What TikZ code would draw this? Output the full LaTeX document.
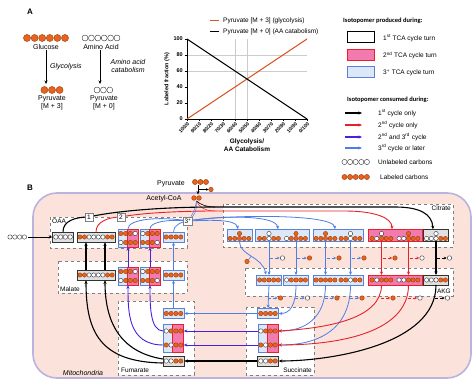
\documentclass[tikz,border=0pt]{standalone}
\usepackage{fontspec}
\setmainfont{Liberation Sans}
\newfontfamily\ttlfont{Carlito}
\usetikzlibrary{arrows.meta}

\definecolor{lorange}{HTML}{E8641E}
\definecolor{dorange}{HTML}{9A3B0A}
\definecolor{chorange}{HTML}{D9541E}
\definecolor{tpink}{HTML}{F27AAE}
\definecolor{tred}{HTML}{E8202A}
\definecolor{tblue}{HTML}{DCE8F8}
\definecolor{tbluedraw}{HTML}{5B82D6}
\definecolor{apurple}{HTML}{4B1FE0}
\definecolor{ablue}{HTML}{4E7FE6}
\definecolor{mito}{HTML}{FBE3DC}
\definecolor{mitoline}{HTML}{B9B3DD}

\newcommand{\fsA}{\fontsize{7}{8}\selectfont}
\newcommand{\fsB}{\fontsize{6.5}{7.5}\selectfont}
\newcommand{\fsC}{\fontsize{5.5}{6.5}\selectfont}

\tikzset{
  c1/.style={circle,draw=dorange,fill=lorange,line width=0.4pt,inner sep=0pt},
  c0/.style={circle,draw=black!80,fill=white,line width=0.4pt,inner sep=0pt},
  gbox/.style={draw=black!80,fill=black!12,line width=0.5pt,inner sep=0pt},
  pbox/.style={draw=tred,fill=tpink,line width=0.6pt,inner sep=0pt},
  bbox/.style={draw=tbluedraw,fill=tblue,line width=0.6pt,inner sep=0pt},
  pool/.style={draw=black!50,dashed,fill=white,line width=0.5pt},
  turnlab/.style={draw=black!50,fill=white,font=\fsB,inner sep=1pt,minimum size=8pt},
  hdr/.style={font=\bfseries\fontsize{8}{9}\selectfont,inner sep=0pt},
  txtA/.style={font=\fsA,inner sep=0pt,align=center},
  txtB/.style={font=\fsB,inner sep=1pt},
  lgd/.style={font=\fsB,anchor=west,inner sep=0pt},
  ttl/.style={font=\ttlfont\bfseries\fontsize{6.5}{7}\selectfont,anchor=west,inner sep=0pt},
  lgbox/.style={minimum width=27pt,minimum height=11pt,line width=1pt,inner sep=0pt},
  flowtip/.style={-{Stealth[length=3.5pt,width=3pt]}},
  kflow/.style={draw=black,line width=1.1pt,flowtip},
  rflow/.style={draw=tred,line width=0.9pt,flowtip},
  pflow/.style={draw=apurple,line width=0.9pt,flowtip},
  bflow/.style={draw=ablue,line width=0.8pt,flowtip},
  kline/.style={draw=black,line width=1.1pt},
  rline/.style={draw=tred,line width=0.9pt},
  bline/.style={draw=ablue,line width=0.8pt},
  co2tip/.style={densely dashed,line width=0.6pt,-{Stealth[length=2.5pt,width=2.5pt]}},
  chartaxis/.style={line width=0.7pt},
  chartgrid/.style={draw=black!20,line width=0.4pt},
}

% carbon chain: spacing, left x, y, list of 1/0
\newcommand{\chain}[4][4.8]{%
  \foreach \cv [count=\ci] in {#4}
    \node[c\cv,minimum size=#1*0.93pt] at ({#2+(\ci-1)*#1},#3) {};}
% citrate: centre x, row y, row list, top carbon
\newcommand{\citr}[4]{%
  \chain[4.7]{#1-9.4}{#2}{#3}
  \node[c#4,minimum size=4.4pt] at (#1,#2-4.9) {};}
% box made during 2nd and 3rd turn
\newcommand{\twotone}[4]{%
  \node[bbox,minimum width=20pt,minimum height=#4pt] (#1) at (#2,#3) {};
  \node[pbox,minimum width=11pt,minimum height=#4pt,anchor=east] (#1p) at (#1.east) {};}
% released carbon
\newcommand{\cotwo}[4]{%
  \draw[#2,co2tip] ([xshift=1pt]#1) -- ([xshift=10.5pt]#1);
  \node[#3,minimum size=4.5pt] (#4) at ([xshift=13.5pt]#1) {};}

\begin{document}
\begin{tikzpicture}[x=1pt,y=-1pt]
\useasboundingbox (0,0) rectangle (474,387);

%% panel A
\node[hdr] (hA) at (30,12) {A};
\chain[7.6]{27}{38}{1,1,1,1,1,1}
\node[txtA] (glc) at (46,47) {Glucose};
\chain[6.4]{85}{38}{0,0,0,0,0,0}
\node[txtA] (aa) at (101,47) {Amino Acid};
\chain[7.6]{44.4}{90}{1,1,1}
\chain[6.4]{97}{90}{0,0,0}
\node[txtA] (pyr3) at (52,103) {Pyruvate\\{[M + 3]}};
\node[txtA] (pyr0) at (104,103) {Pyruvate\\{[M + 0]}};
\coordinate (pyr3c) at (46,84);
\coordinate (pyr0c) at (100,84);
\draw[draw=black,line width=0.9pt,flowtip] (glc.south) -- (pyr3c);
\draw[draw=black,line width=0.9pt,flowtip] (aa.south -| pyr0c) -- (pyr0c);
\node[txtA,font=\fsA\itshape] (glyc) at (66,67) {Glycolysis};
\node[txtA,font=\fsA\itshape] (aacat) at (128,66) {Amino acid\\catabolism};

%% chart
\foreach \v in {60,80}
  \draw[chartgrid] (187,{119-0.8*\v}) -- (307,{119-0.8*\v});
\foreach \i in {4,5}
  \draw[chartgrid] ({187+12*\i},39) -- ({187+12*\i},119);
\draw[chartaxis] (187,39) -- (187,119) -- (307,119);
\foreach \v in {0,20,...,100}{
  \draw[chartaxis] (184.5,{119-0.8*\v}) -- (187,{119-0.8*\v});
  \node[font=\bfseries\fsC,anchor=east,inner sep=0pt] at (183,{119-0.8*\v}) {\v};}
\foreach \l [count=\i from 0] in {100/0,90/10,80/20,70/30,60/40,50/50,40/60,30/70,20/80,10/90,0/100}{
  \draw[chartaxis] ({187+12*\i},119) -- ({187+12*\i},121.5);
  \node[font=\bfseries\fontsize{5}{6}\selectfont,rotate=45,anchor=east,inner sep=0pt] at ({188.5+12*\i},123.5) {\l};}
\node[font=\bfseries\fsC,rotate=90,inner sep=0pt] (ylab) at (167,79) {Labeled fraction (\%)};
\node[font=\bfseries\fsB,align=center,inner sep=0pt] (xlab) at (247,145) {Glycolysis/\\AA Catabolism};
\draw[chorange,line width=1pt] (187,119) -- (307,39);
\draw[black,line width=1pt] (187,39) -- (307,119);
\draw[chorange,line width=1pt] (210,21) -- (219,21);
\node[lgd] (lgo) at (223,21) {Pyruvate [M + 3] (glycolysis)};
\draw[black,line width=1pt] (210,32) -- (219,32);
\node[lgd] (lgk) at (223,32) {Pyruvate [M + 0] (AA catabolism)};

%% legend
\node[ttl] (prodT) at (343,21) {Isotopomer produced during:};
\node[lgbox,draw=black,fill=white] (lg1) at (360.5,37.5) {};
\node[lgd] (lg1t) at (383,38) {1\textsuperscript{st} TCA cycle turn};
\node[lgbox,draw=tred,fill=tpink] (lg2) at (360.5,55.5) {};
\node[lgd] (lg2t) at (383,55.5) {2\textsuperscript{nd} TCA cycle turn};
\node[lgbox,draw=tbluedraw,fill=tblue] (lg3) at (360.5,72.5) {};
\node[lgd] (lg3t) at (383,73) {3\textsuperscript{+} TCA cycle turn};
\node[ttl] (consT) at (347,100) {Isotopomer consumed during:};
\foreach \n/\y in {1/113,2/125,3/137,4/148}{
  \coordinate (ar\n s) at (345,\y);
  \coordinate (ar\n e) at (362,\y);}
\draw[kflow] (ar1s) -- (ar1e);
\draw[rflow,line width=1.1pt] (ar2s) -- (ar2e);
\draw[pflow,line width=1.1pt] (ar3s) -- (ar3e);
\draw[bflow,line width=1.1pt] (ar4s) -- (ar4e);
\node[lgd] (ar1t) at (378,113) {1\textsuperscript{st} cycle only};
\node[lgd] (ar2t) at (378,125) {2\textsuperscript{nd} cycle only};
\node[lgd] (ar3t) at (378,137) {2\textsuperscript{nd} and 3\textsuperscript{rd} cycle};
\node[lgd] (ar4t) at (378,148) {3\textsuperscript{rd} cycle or later};
\chain[5.6]{344.5}{162}{0,0,0,0,0}
\node[lgd] (unl) at (378,162) {Unlabeled carbons};
\chain[5.6]{344.5}{177}{1,1,1,1,1}
\node[lgd] (lbl) at (380,177) {Labeled carbons};

%% panel B
\node[hdr] (hB) at (30,188) {B};
\draw[mitoline,fill=mito,line width=1.6pt,rounded corners=24pt] (33,193) rectangle (471,378);
\node[txtB,font=\fsA\itshape] (mitoL) at (83,373) {Mitochondria};
\node[txtB,font=\fsA] (pyrB) at (171,184) {Pyruvate};
\chain[5.5]{195}{182}{1,1,1}
\node[txtB,font=\fsA] (acoaL) at (164,199) {Acetyl-CoA};
\chain[5]{194}{198}{1,1}

% pools
\draw[pool] (50,217) rectangle (187,248);
\node[txtB,anchor=north west] (oaaL) at (51,218) {OAA};
\draw[pool] (58,261) rectangle (187,293);
\node[txtB,anchor=south west] (malL) at (59,293) {Malate};
\draw[pool] (118,301) rectangle (194,375);
\node[txtB,anchor=south west] (fumL) at (120,374) {Fumarate};
\draw[pool] (246,307) rectangle (314,375);
\node[txtB,anchor=south east] (sucL) at (313,374) {Succinate};
\draw[pool] (223,204) rectangle (453,247);
\node[txtB,anchor=north east] (citL) at (452,205) {Citrate};
\draw[pool] (245,268) rectangle (453,296);
\node[txtB,anchor=south east] (akgL) at (452,295) {AKG};

% OAA row
\node[gbox,minimum width=21pt,minimum height=10pt] (oaa1) at (63,237) {};
\chain{55.8}{237}{0,0,0,0}
\node[gbox,minimum width=38pt,minimum height=10pt] (oaa2) at (96,237) {};
\chain[4.6]{79.9}{237}{1,1,0,0,0,0,1,1}
\twotone{oaa3}{128}{238}{18}
\chain{120.8}{233.5}{1,1,1,0}
\chain{120.8}{242.5}{0,1,1,1}
\twotone{oaa4}{150}{238}{18}
\chain{142.8}{233.5}{0,1,1,1}
\chain{142.8}{242.5}{1,1,1,0}
\node[bbox,minimum width=21pt,minimum height=10pt] (oaa5) at (173.5,237) {};
\chain{166.3}{237}{1,1,1,1}
\chain{10}{237}{0,0,0,0}
\coordinate (inp) at (28,237);
\draw[draw=black,line width=0.8pt,flowtip] (inp) -- (oaa1.west);

% malate row
\node[gbox,minimum width=38pt,minimum height=10pt] (mal2) at (96,275) {};
\chain[4.6]{79.9}{275}{1,1,0,0,0,0,1,1}
\twotone{mal3}{128}{276}{18}
\chain{120.8}{271.5}{1,1,1,0}
\chain{120.8}{280.5}{0,1,1,1}
\twotone{mal4}{150}{276}{18}
\chain{142.8}{271.5}{0,1,1,1}
\chain{142.8}{280.5}{1,1,1,0}
\node[bbox,minimum width=21pt,minimum height=10pt] (mal5) at (173.5,275) {};
\chain{166.3}{275}{1,1,1,1}

% fumarate and succinate
\node[bbox,minimum width=21pt,minimum height=10pt] (fum1) at (173.5,313.5) {};
\chain{166.3}{313.5}{1,1,1,1}
\twotone{fum2}{173.5}{338}{28}
\chain{166.3}{331}{0,1,1,1}
\chain{166.3}{345}{1,0,1,1}
\node[gbox,minimum width=21pt,minimum height=10pt] (fumG) at (173.5,361) {};
\chain{166.3}{361}{0,0,1,1}
\node[bbox,minimum width=21pt,minimum height=10pt] (suc1) at (268,313.5) {};
\chain{260.8}{313.5}{1,1,1,1}
\twotone{suc2}{268}{338}{28}
\chain{260.8}{331}{0,1,1,1}
\chain{260.8}{345}{1,0,1,1}
\node[gbox,minimum width=21pt,minimum height=10pt] (sucG) at (268,361) {};
\chain{260.8}{361}{0,0,1,1}

% citrate row
\node[bbox,minimum width=25pt,minimum height=12pt] (citA) at (239.5,235.5) {};
\citr{239.5}{238.5}{1,1,1,1,1}{1}
\node[bbox,minimum width=54pt,minimum height=12pt] (citB) at (282.5,235.5) {};
\citr{269}{238.5}{1,1,0,1,1}{0}
\citr{296}{238.5}{0,1,1,1,1}{1}
\node[bbox,minimum width=50pt,minimum height=12pt] (citC) at (338,235.5) {};
\citr{325.5}{238.5}{1,1,1,1,1}{1}
\citr{350.5}{238.5}{1,1,0,1,1}{0}
\node[pbox,minimum width=54pt,minimum height=12pt] (citD) at (395,235.5) {};
\citr{381.5}{238.5}{1,0,1,1,1}{0}
\citr{408.5}{238.5}{0,0,1,1,1}{1}
\node[gbox,minimum width=25pt,minimum height=12pt] (citE) at (436,235.5) {};
\citr{436}{238.5}{0,0,0,1,1}{0}

% AKG row
\node[bbox,minimum width=25pt,minimum height=10pt] (akg1) at (269,280) {};
\chain[4.7]{259.6}{280}{1,1,1,1,1}
\node[bbox,minimum width=25pt,minimum height=10pt] (akg2) at (296,280) {};
\chain[4.7]{286.6}{280}{0,1,1,1,1}
\node[bbox,minimum width=50pt,minimum height=10pt] (akg3) at (338,280) {};
\chain[4.7]{316.1}{280}{1,1,1,1,1}
\chain[4.7]{341.1}{280}{1,1,0,1,1}
\node[pbox,minimum width=54pt,minimum height=10pt] (akg4) at (395,280) {};
\chain[4.7]{372.1}{280}{1,0,1,1,1}
\chain[4.7]{399.1}{280}{0,0,1,1,1}
\node[gbox,minimum width=25pt,minimum height=10pt] (akg5) at (436,280) {};
\chain[4.7]{426.6}{280}{0,0,0,1,1}

% column points
\foreach \n/\x in {a/269,b/296,c/325.5,d/350.5,e/381.5,f/408.5,g/436}{
  \coordinate (t\n) at (\x,241.5);
  \coordinate (m\n) at (\x,275);
  \coordinate (s\n) at (\x,258);
  \coordinate (u\n) at (\x,285);
  \coordinate (w\n) at (\x-2,298);}

% pyruvate to acetyl-CoA
\coordinate (pyrc) at (198,185.5);
\coordinate (acoat) at (198,194.5);
\coordinate (pyrbr) at (198,189.5);
\draw[draw=black,line width=0.7pt,flowtip] (pyrc) -- (acoat);
\node[c1,minimum size=4.5pt] (pco2) at (211,189.5) {};
\draw[draw=black,line width=0.6pt,-{Stealth[length=2.5pt,width=2.5pt]}] (pyrbr) -- (pco2);

% condensation with acetyl-CoA
\coordinate (acoa) at (196.5,201);
\coordinate (l1) at (89,217);
\coordinate (l2) at (121,217);
\coordinate (l3) at (188,221);
\draw[bline,line width=0.5pt] (acoa) .. controls (195,210) and (192,216) .. (l3);
\draw[bline,line width=0.5pt] (acoa) .. controls (197,211) and (194,217) .. (l3);
\draw[rline,line width=0.5pt] (acoa) .. controls (199,207) and (205,211) .. (215,211);
\draw[kline,line width=0.6pt] (acoa) .. controls (201,205) and (207,207) .. (215,207);
\draw[kflow] (oaa1.north) .. controls (63,221) and (75,217) .. (l1) .. controls (105,213) and (150,207) .. (215,207) -- (395,207) .. controls (420,207) and (432,214) .. ([xshift=-3pt]citE.north);
\draw[rflow] (oaa2.north) .. controls (96,222) and (108,217) .. (l2) .. controls (140,213) and (180,211) .. (215,211) -- (345,211) .. controls (375,211) and (392,218) .. ([xshift=-3pt]citD.north);
\draw[bline] (oaa3.north) .. controls (128,219) and (160,216) .. (l3);
\draw[bline] (oaa4.north) .. controls (150,222) and (168,219) .. (l3);
\draw[bline] (oaa5.north) .. controls (173.5,226) and (180,222) .. (l3);
\draw[bflow] (l3) .. controls (210,220) and (236,219) .. ([xshift=-1.5pt]citA.north);
\draw[bflow] (l3) .. controls (215,216) and (276,214) .. ([xshift=-4.5pt]citB.north);
\draw[bflow] (l3) .. controls (220,215) and (333,213) .. ([xshift=-3pt]citC.north);

% citrate to AKG
\draw[bflow] (citA.south) .. controls (240,256) and (262,256) .. ([xshift=-3pt]akg1.north);
\coordinate (brA) at (251,256.5);
\node[c1,minimum size=4.5pt] (xA) at (247,261.5) {};
\draw[ablue,line width=0.6pt] (brA) -- (xA);
\draw[bflow] (ta) -- (ma);
\draw[bflow] (tb) -- (mb);
\draw[bflow] (tc) -- (mc);
\draw[bflow] (td) -- (md);
\draw[rflow] (te) -- (me);
\draw[rflow] (tf) -- (mf);
\draw[kflow] (tg) -- (mg);
\cotwo{sa}{ablue}{c0}{xa}
\cotwo{sb}{ablue}{c1}{xb}
\cotwo{sc}{ablue}{c1}{xc}
\cotwo{sd}{ablue}{c1}{xd}
\cotwo{se}{tred}{c1}{xe}
\cotwo{sf}{tred}{c0}{xf}
\cotwo{sg}{black}{c0}{xg}

% AKG to succinate
\draw[bflow] (ua) -- (suc1.north);
\draw[bflow] (ub) .. controls (296,305) and (290,313.5) .. (suc1.east);
\draw[bflow] (uc) .. controls (325.5,318) and (305,331) .. ([yshift=7pt]suc2.east);
\draw[bflow] (ud) .. controls (350.5,332) and (315,345) .. ([yshift=-7pt]suc2.east);
\draw[rflow] (ue) .. controls (381.5,318) and (330,328) .. ([yshift=7pt]suc2.east);
\draw[rflow] (uf) .. controls (408.5,334) and (335,345) .. ([yshift=-7pt]suc2.east);
\draw[kflow] (ug) .. controls (436,345) and (330,361) .. (sucG.east);
\cotwo{wa}{ablue}{c1}{ya}
\cotwo{wb}{ablue}{c0}{yb}
\cotwo{wc}{ablue}{c1}{yc}
\cotwo{wd}{ablue}{c1}{yd}
\cotwo{we}{tred}{c1}{ye}
\cotwo{wf}{tred}{c0}{yf}
\cotwo{wg}{black}{c0}{yg}

% succinate to fumarate to malate to OAA
\draw[bflow] (suc1.west) -- (fum1.east);
\draw[pflow] ([yshift=7pt]suc2.west) -- ([yshift=7pt]fum2.east);
\draw[pflow] ([yshift=-7pt]suc2.west) -- ([yshift=-7pt]fum2.east);
\draw[kflow] (sucG.west) -- (fumG.east);
\draw[bflow] (fum1.north) -- (mal5.south);
\draw[pflow] ([yshift=7pt]fum2.west) .. controls (150,331) and (150,305) .. (mal4.south);
\draw[pflow] ([yshift=-7pt]fum2.west) .. controls (128,345) and (128,312) .. (mal3.south);
\draw[kflow] ([yshift=2pt]fumG.west) .. controls (120,352) and (105,322) .. ([xshift=9pt]mal2.south);
\draw[kflow] ([yshift=-2pt]fumG.west) .. controls (100,362) and (86,332) .. ([xshift=-10pt]mal2.south);
\draw[kflow] ([xshift=-10pt]mal2.north) -- ([xshift=-10pt]oaa2.south);
\draw[kflow] ([xshift=9pt]mal2.north) -- ([xshift=9pt]oaa2.south);
\draw[pflow] (mal3.north) -- (oaa3.south);
\draw[pflow] (mal4.north) -- (oaa4.south);
\draw[bflow] (mal5.north) -- (oaa5.south);

% turn labels
\node[turnlab] (lab1) at (l1) {1};
\node[turnlab] (lab2) at (l2) {2};
\node[turnlab] (lab3) at (l3) {3\textsuperscript{+}};
\end{tikzpicture}
\end{document}
